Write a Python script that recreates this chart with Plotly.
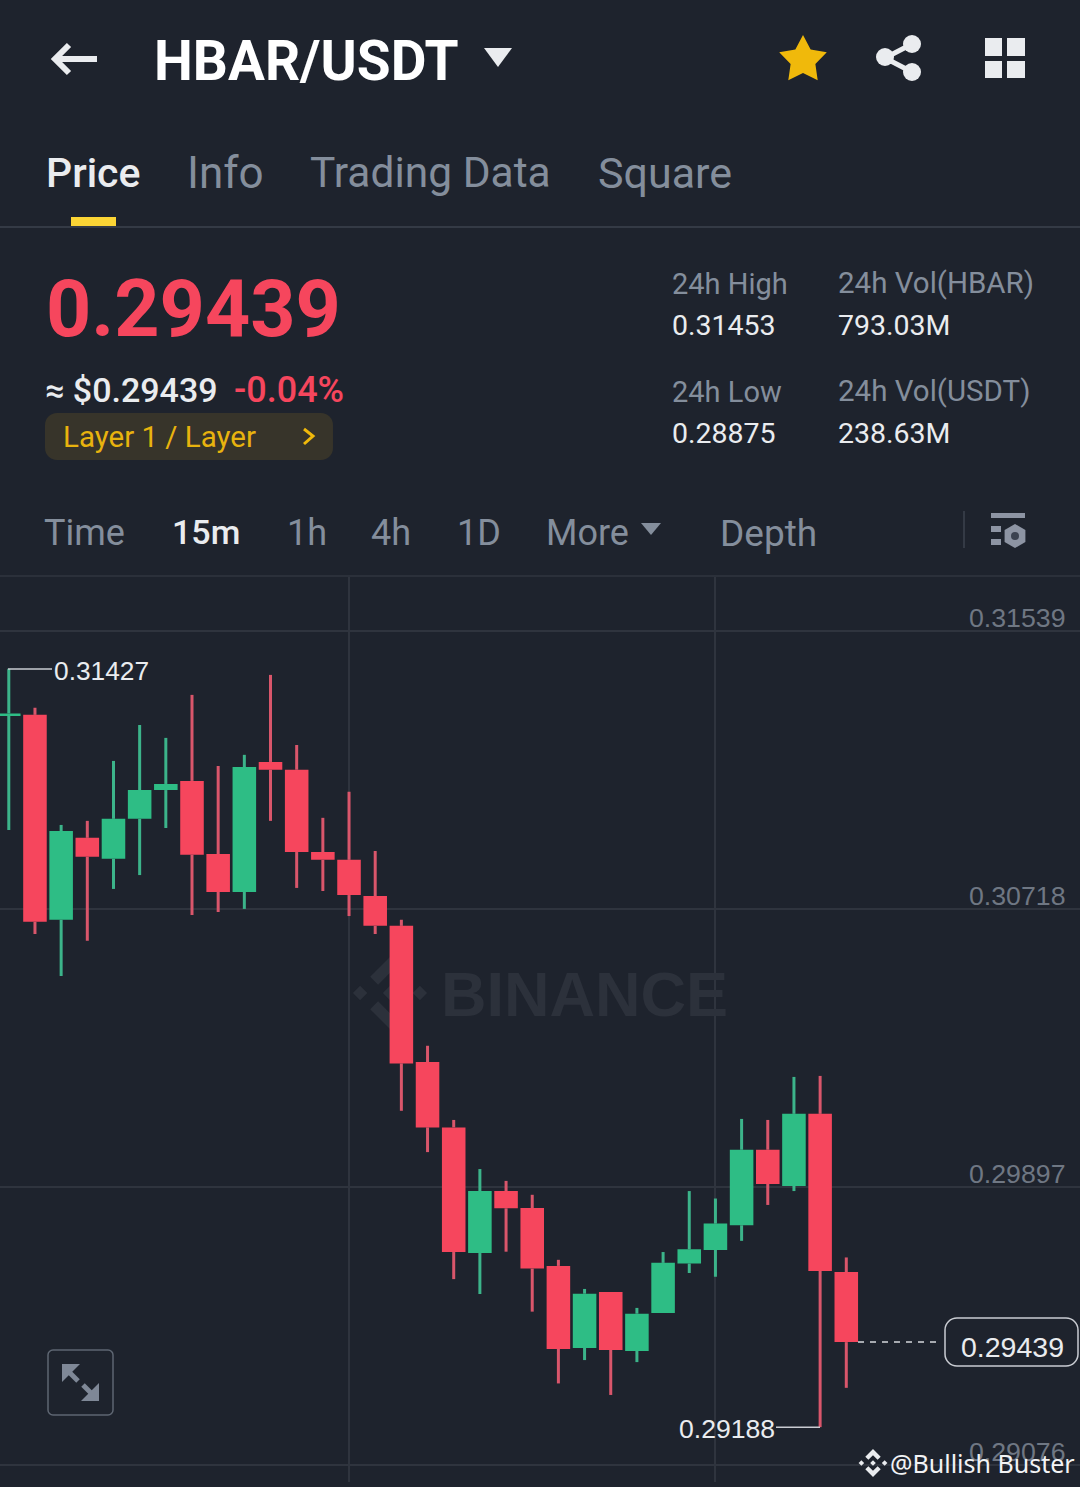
import math
import plotly.graph_objects as go

W, H = 1080, 1487

# candles, oldest first
open_prices = [0.31288, 0.31291, 0.30686, 0.30928, 0.30866, 0.30984, 0.31069, 0.31096, 0.30880, 0.30768, 0.31152,
               0.31129, 0.30886, 0.30863, 0.30756, 0.30668, 0.30266, 0.30073, 0.29702, 0.29885, 0.29835, 0.29664,
               0.29422, 0.29587, 0.29413, 0.29525, 0.29671, 0.29711, 0.29784, 0.30007, 0.29900, 0.30113, 0.29646]
close_prices = [0.31295, 0.30680, 0.30948, 0.30872, 0.30984, 0.31069, 0.31087, 0.30878, 0.30768, 0.31137, 0.31129,
                0.30886, 0.30863, 0.30759, 0.30668, 0.30262, 0.30073, 0.29705, 0.29885, 0.29834, 0.29656, 0.29419,
                0.29582, 0.29416, 0.29523, 0.29673, 0.29713, 0.29789, 0.30007, 0.29906, 0.30113, 0.29649, 0.29439]
high_prices = [0.31427, 0.31312, 0.30966, 0.30978, 0.31155, 0.31261, 0.31223, 0.31350, 0.31140, 0.31173, 0.31409,
               0.31202, 0.30987, 0.31064, 0.30889, 0.30686, 0.30314, 0.30095, 0.29950, 0.29915, 0.29874, 0.29682,
               0.29596, 0.29587, 0.29540, 0.29705, 0.29885, 0.29863, 0.30098, 0.30095, 0.30222, 0.30225, 0.29689]
low_prices = [0.30951, 0.30644, 0.30520, 0.30624, 0.30777, 0.30818, 0.30957, 0.30700, 0.30709, 0.30718, 0.30978,
              0.30780, 0.30771, 0.30697, 0.30644, 0.30122, 0.30000, 0.29625, 0.29581, 0.29706, 0.29529, 0.29317,
              0.29386, 0.29283, 0.29380, 0.29525, 0.29643, 0.29632, 0.29738, 0.29844, 0.29885, 0.29188, 0.29304]

y_ticks = [0.31539, 0.30718, 0.29897, 0.29076]
y_tick_labels = ["0.31539", "0.30718", "0.29897", "0.29076"]
x_grid = [13, 27]
high_mark = 0.31427
low_mark = 0.29188
last_price = 0.29439

BG = "#1e232d"
GRID = "#2f343e"
RED = "#f6465d"
GREEN = "#2ebd85"
RED_WICK = "#d9566b"
GREEN_WICK = "#3cb48a"
WHITE = "#eaecef"
GREY = "#848e9c"
YELLOW = "#f0b90b"
MARK = "#2c313b"
SANS = "Roboto"
HELV = "Liberation Sans"


def px(x):
    return x / W


def py(y):
    return 1 - y / H


def poly(points, close=True):
    d = "M" + " L".join(f"{px(x):.5f},{py(y):.5f}" for x, y in points)
    return d + (" Z" if close else "")


annotations = []
shapes = []


def text(s, x, y, size, color, anchor="left", family=SANS, weight=400):
    # annotations pad the text a little, pull it back onto the measured edge
    if anchor == "left":
        x -= 2 if family == SANS else 1
    elif anchor == "right":
        x += 1
    annotations.append(dict(text=s, x=px(x), y=py(y), xref="paper", yref="paper", xanchor=anchor, yanchor="middle",
                            showarrow=False, borderpad=0, font=dict(family=family, size=size, color=color, weight=weight)))


def fill_poly(points, color, layer="above"):
    shapes.append(dict(type="path", path=poly(points), xref="paper", yref="paper", fillcolor=color,
                       line=dict(width=0), layer=layer))


def stroke(points, color, width, dash="solid", closed=False):
    shapes.append(dict(type="path", path=poly(points, closed), xref="paper", yref="paper",
                       line=dict(color=color, width=width, dash=dash)))


def rect(x0, y0, x1, y1, color=None, line=None, lw=0):
    shapes.append(dict(type="rect", x0=px(x0), x1=px(x1), y0=py(y0), y1=py(y1), xref="paper", yref="paper",
                       fillcolor=color or "rgba(0,0,0,0)", line=dict(color=line or "rgba(0,0,0,0)", width=lw)))


def circle(cx, cy, r, color):
    shapes.append(dict(type="circle", x0=px(cx - r), x1=px(cx + r), y0=py(cy - r), y1=py(cy + r),
                       xref="paper", yref="paper", fillcolor=color, line=dict(width=0)))


def round_rect(x0, y0, x1, y1, r, fill=None, line=None, lw=0):
    k = 0.45 * r
    d = (f"M{px(x0 + r):.5f},{py(y0):.5f} L{px(x1 - r):.5f},{py(y0):.5f} "
         f"C{px(x1 - k):.5f},{py(y0):.5f} {px(x1):.5f},{py(y0 + k):.5f} {px(x1):.5f},{py(y0 + r):.5f} "
         f"L{px(x1):.5f},{py(y1 - r):.5f} "
         f"C{px(x1):.5f},{py(y1 - k):.5f} {px(x1 - k):.5f},{py(y1):.5f} {px(x1 - r):.5f},{py(y1):.5f} "
         f"L{px(x0 + r):.5f},{py(y1):.5f} "
         f"C{px(x0 + k):.5f},{py(y1):.5f} {px(x0):.5f},{py(y1 - k):.5f} {px(x0):.5f},{py(y1 - r):.5f} "
         f"L{px(x0):.5f},{py(y0 + r):.5f} "
         f"C{px(x0):.5f},{py(y0 + k):.5f} {px(x0 + k):.5f},{py(y0):.5f} {px(x0 + r):.5f},{py(y0):.5f} Z")
    shapes.append(dict(type="path", path=d, xref="paper", yref="paper", fillcolor=fill or "rgba(0,0,0,0)",
                       line=dict(color=line or "rgba(0,0,0,0)", width=lw)))


def binance_logo(cx, cy, s, color, layer="above"):
    # centre, side diamonds and the two chevrons
    for dx in (0, -0.83, 0.83):
        r = 0.2
        fill_poly([(cx + dx * s, cy - r * s), (cx + (dx + r) * s, cy), (cx + dx * s, cy + r * s),
                   (cx + (dx - r) * s, cy)], color, layer)
    for sign in (-1, 1):
        fill_poly([(cx, cy + sign * s), (cx + 0.55 * s, cy + sign * 0.45 * s), (cx + 0.33 * s, cy + sign * 0.23 * s),
                   (cx, cy + sign * 0.56 * s), (cx - 0.33 * s, cy + sign * 0.23 * s),
                   (cx - 0.55 * s, cy + sign * 0.45 * s)], color, layer)


# header
stroke([(97, 59), (56, 59)], WHITE, 6)
stroke([(69, 45), (55, 59), (69, 73)], WHITE, 6)
text("HBAR/USDT", 155, 61, 55, "#ffffff", weight=700)
fill_poly([(484, 48), (512, 48), (498, 67)], WHITE)
star = []
for k in range(10):
    a = -math.pi / 2 + k * math.pi / 5
    r = 25 if k % 2 == 0 else 13
    star.append((803 + r * math.cos(a), 60 + r * math.sin(a)))
fill_poly(star, YELLOW)
stroke([(912, 44), (885, 58), (912, 72)], WHITE, 5)
circle(912, 44, 9, WHITE)
circle(885, 57, 9, WHITE)
circle(912, 72, 9, WHITE)
rect(985, 38, 1002, 56, WHITE)
rect(1007, 38, 1025, 56, WHITE)
rect(985, 61, 1002, 78, WHITE)
rect(1007, 61, 1025, 78, WHITE)

# tabs
text("Price", 47, 173, 41, WHITE, weight=500)
text("Info", 188, 173, 44, GREY)
text("Trading Data", 311, 173, 42.5, GREY)
text("Square", 599, 173, 43, GREY)
rect(71, 217, 116, 226, "#fcd535")
rect(0, 226, W, 228, "#343a45")

# price block
text("0.29439", 47, 309, 79, RED, weight=700)
text("≈ $0.29439", 46, 390, 34, WHITE, weight=500)
text("-0.04%", 235, 390, 36, RED, weight=500)
round_rect(45, 413, 333, 460, 12, fill="#37342a")
text("Layer 1 / Layer", 64, 437, 29.5, "#e8b30e")
stroke([(304, 429), (313, 436), (304, 444)], YELLOW, 3)

text("24h High", 673, 284, 29, GREY)
text("0.31453", 673, 326, 28.5, WHITE)
text("24h Low", 673, 392, 29, GREY)
text("0.28875", 673, 434, 28.5, WHITE)
text("24h Vol(HBAR)", 839, 283, 29.5, GREY)
text("793.03M", 839, 325, 28.5, WHITE)
text("24h Vol(USDT)", 839, 391, 29.5, GREY)
text("238.63M", 839, 433, 28.5, WHITE)

# interval bar
text("Time", 45, 533, 36, GREY)
text("15m", 173, 532, 34, WHITE, weight=500)
text("1h", 288, 533, 36, GREY)
text("4h", 372, 533, 36, GREY)
text("1D", 458, 533, 36, GREY)
text("More", 547, 533, 36, GREY)
fill_poly([(641, 523), (661, 523), (651, 535)], GREY)
text("Depth", 721, 533, 37, GREY)
rect(963, 511, 965, 548, "#343a45")
rect(991, 513, 1025, 518, "#8d94a3")
rect(991, 526, 1001, 532, "#8d94a3")
rect(991, 539, 1001, 545, "#8d94a3")
hexagon = []
for k in range(6):
    a = -math.pi / 2 + k * math.pi / 3
    hexagon.append((1015 + 12 * math.cos(a), 536 + 12 * math.sin(a)))
fill_poly(hexagon, "#8d94a3")
circle(1015, 536, 4, "#3b4250")
rect(0, 575, W, 577, "#2b303a")

# watermark
binance_logo(390, 993, 36, MARK, layer="below")
text("BINANCE", 441, 994, 63, MARK, family=HELV, weight=700)

# axis labels sit just above their grid lines
for value, label in zip(y_ticks, y_tick_labels):
    annotations.append(dict(text=label, x=px(1067), y=value, xref="paper", yref="y", xanchor="right", yanchor="bottom",
                            yshift=-4, showarrow=False, font=dict(family=HELV, size=26.7, color="#6f7783")))

# high / low markers
shapes.append(dict(type="path", xref="paper", yref="paper", line=dict(color="#c9ccd2", width=1.5),
                   path=poly([(8, 669), (52, 669)], False)))
text("0.31427", 54, 671, 26.3, WHITE, family=HELV)
shapes.append(dict(type="line", x0=px(776), x1=px(820), y0=low_mark, y1=low_mark, xref="paper", yref="y",
                   line=dict(color="#c9ccd2", width=1.5)))
text("0.29188", 775, 1429, 26.6, WHITE, anchor="right", family=HELV)

# last price
shapes.append(dict(type="line", x0=px(858), x1=px(938), y0=last_price, y1=last_price, xref="paper", yref="y",
                   line=dict(color="#d5d8dc", width=1.5, dash="6px,6px")))
round_rect(945, 1318, 1078, 1366, 12, line="#c9ccd2", lw=1.5)
text("0.29439", 1012.5, 1347, 28.5, WHITE, anchor="center", family=HELV)

# expand button
round_rect(48, 1350, 113, 1415, 5, line="#5e6672", lw=1.5)
stroke([(68, 1371), (78, 1381)], "#7f8897", 5)
stroke([(83, 1385), (93, 1395)], "#7f8897", 5)
fill_poly([(62, 1364), (80, 1364), (62, 1382)], "#7f8897")
fill_poly([(99, 1401), (81, 1401), (99, 1383)], "#7f8897")

# repost credit
binance_logo(873, 1463, 14, WHITE)
text("@Bullish Buster", 890, 1463, 25, "#f2f3f5", family="Noto Sans")

# wicks
candle_x = list(range(len(open_prices)))
wick_x = {RED_WICK: [], GREEN_WICK: []}
wick_y = {RED_WICK: [], GREEN_WICK: []}
for i in candle_x:
    c = GREEN_WICK if close_prices[i] >= open_prices[i] else RED_WICK
    top = max(open_prices[i], close_prices[i])
    bot = min(open_prices[i], close_prices[i])
    wick_x[c] += [i, i, None, i, i, None]
    wick_y[c] += [high_prices[i], top, None, bot, low_prices[i], None]

fig = go.Figure()
for c in wick_x:
    fig.add_trace(go.Scatter(x=wick_x[c], y=wick_y[c], mode="lines", line=dict(color=c, width=3), hoverinfo="skip",
                             showlegend=False))
fig.add_trace(go.Candlestick(x=candle_x, open=open_prices, high=high_prices, low=low_prices, close=close_prices,
                             increasing=dict(fillcolor=GREEN, line=dict(color=GREEN, width=0)),
                             decreasing=dict(fillcolor=RED, line=dict(color=RED, width=0)),
                             showlegend=False))

fig.update_layout(
    width=W, height=H, margin=dict(l=0, r=0, t=0, b=0), paper_bgcolor=BG, plot_bgcolor=BG, boxgap=0.1, boxgroupgap=0,
    showlegend=False, annotations=annotations, shapes=shapes,
    xaxis=dict(range=[-0.336, 40.93], tickvals=x_grid, showticklabels=False, ticks="", showgrid=True, gridcolor=GRID,
               gridwidth=1.5, zeroline=False, showline=False, rangeslider=dict(visible=False), fixedrange=True),
    yaxis=dict(range=[0.29026, 0.31701], domain=[5 / H, 911 / H], tickvals=y_ticks, showticklabels=False, ticks="",
               showgrid=True, gridcolor=GRID, gridwidth=1.5, zeroline=False, showline=False, fixedrange=True),
)
fig.write_html("out.html", config=dict(displayModeBar=False),
               post_script="document.body.style.margin='0';document.body.style.background='#1e232d';")
